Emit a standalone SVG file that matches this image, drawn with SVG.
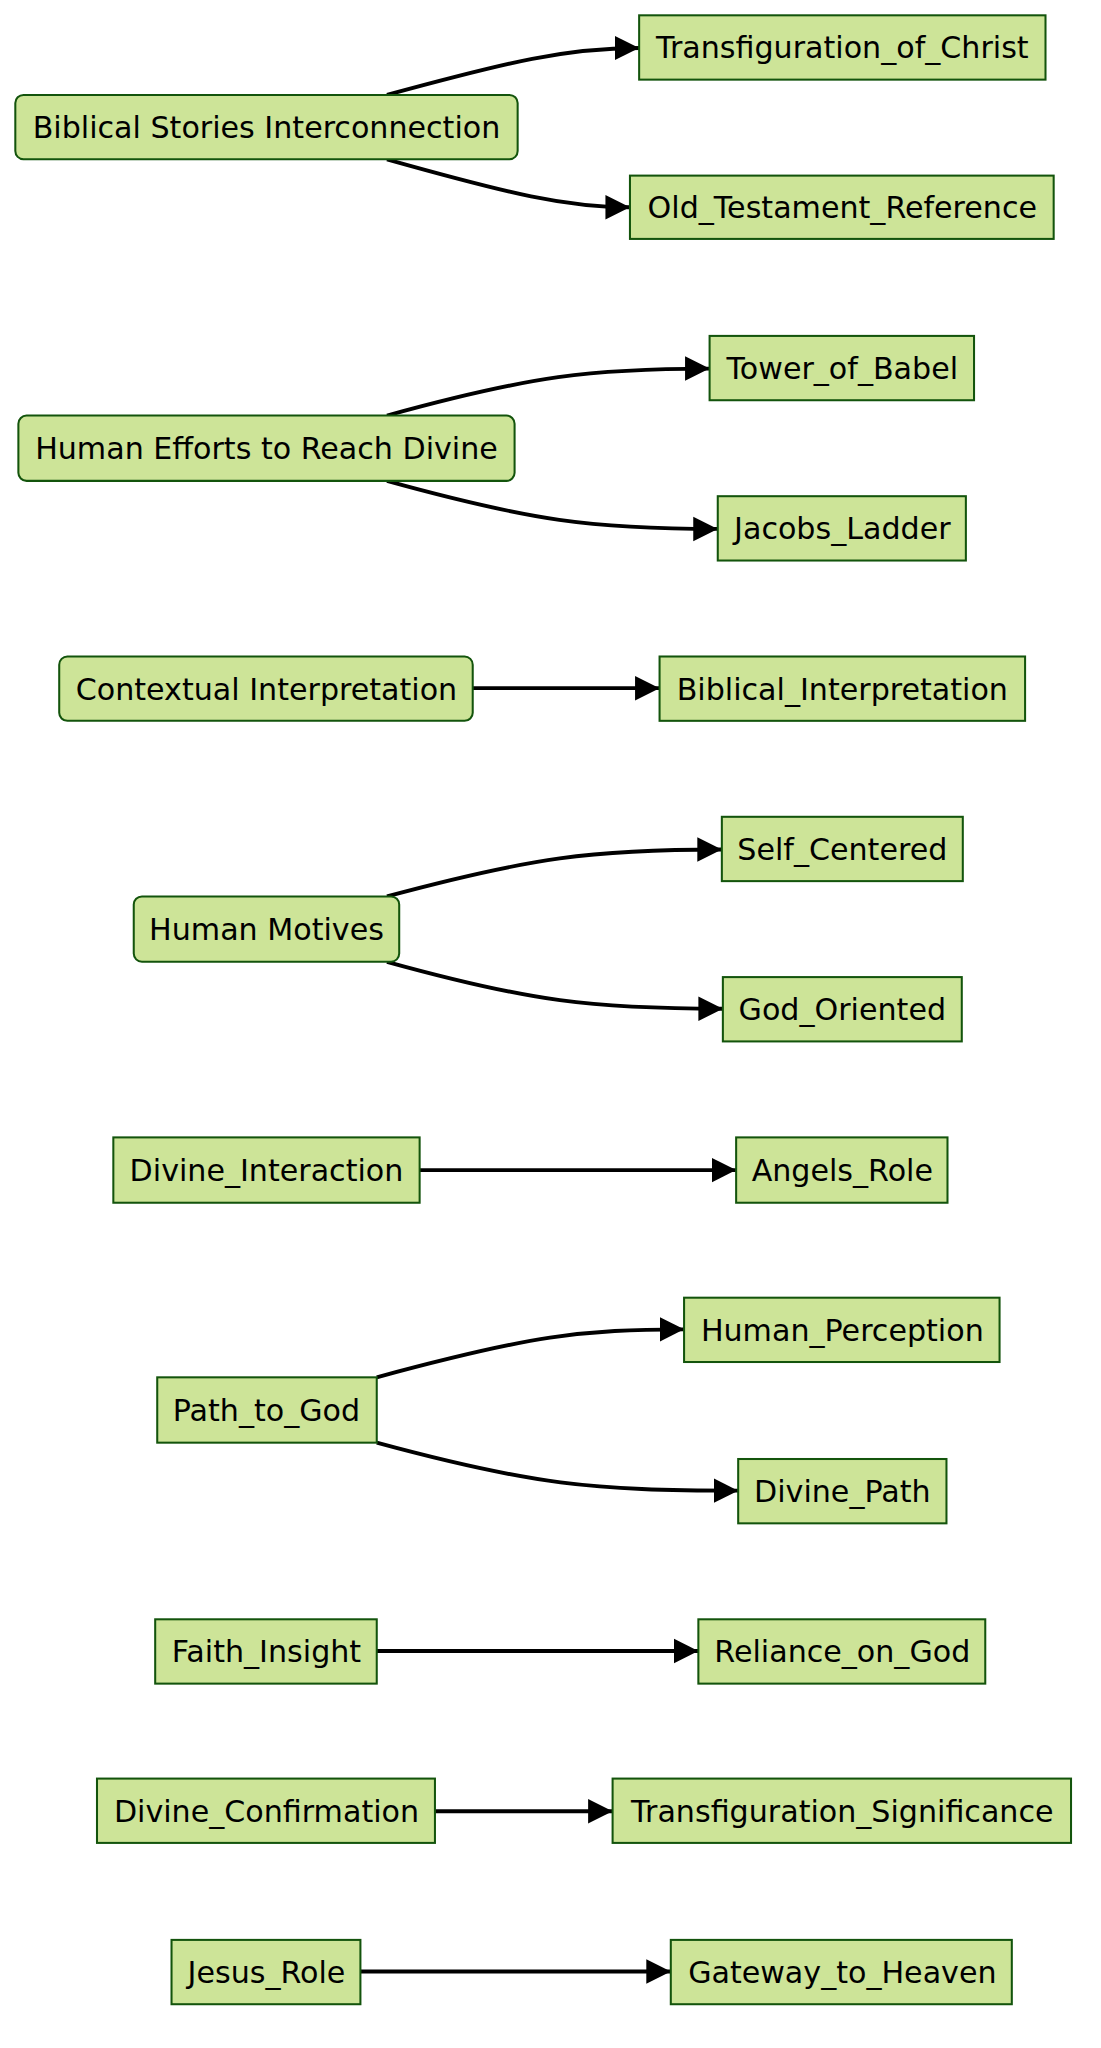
<svg xmlns="http://www.w3.org/2000/svg" width="1101" height="2048" viewBox="0 0 1101 2048">
<style>
.n rect{fill:#cde498;stroke:#13540c;stroke-width:2}
.n text{font-family:"DejaVu Sans",sans-serif;font-size:29.5px;fill:#000;text-anchor:middle;dominant-baseline:central}
.e path{fill:none;stroke:#000;stroke-width:3.8;marker-end:url(#a)}
</style>
<defs><marker id="a" markerUnits="userSpaceOnUse" markerWidth="26" markerHeight="26" refX="24" refY="13" orient="auto" viewBox="0 0 26 26"><path d="M0,1 L24,13 L0,25 z" fill="#000"/></marker></defs>
<rect width="1101" height="2048" fill="#fff"/>
<g transform="scale(1.021)">
<g id="edges" class="e">
<path d="M379,93 C500,60 555,47 626,47"/>
<path d="M379,156 C500,190 555,203 617,203"/>
<path d="M379,407 C520,368 580,361 695,361"/>
<path d="M379,471 C520,510 580,518 703,518"/>
<path d="M463,674 L646,674"/>
<path d="M379,878 C520,840 580,832 707,832"/>
<path d="M379,942 C520,981 580,988 708,988"/>
<path d="M411,1146 L721,1146"/>
<path d="M369,1349 C520,1308 570,1302 670,1302"/>
<path d="M369,1413 C520,1454 580,1460 723,1460"/>
<path d="M369,1617 L684,1617"/>
<path d="M426,1774 L600,1774"/>
<path d="M353,1931 L657,1931"/>
</g>
<g id="n1" class="n"><rect x="15" y="93" width="492" height="63" rx="8"/><text x="261" y="125">Biblical Stories Interconnection</text></g>
<g id="n2" class="n"><rect x="626" y="15" width="398" height="63"/><text x="825" y="47">Transfiguration_of_Christ</text></g>
<g id="n3" class="n"><rect x="617" y="172" width="415" height="62"/><text x="825" y="203">Old_Testament_Reference</text></g>
<g id="n4" class="n"><rect x="18" y="407" width="486" height="64" rx="8"/><text x="261" y="439">Human Efforts to Reach Divine</text></g>
<g id="n5" class="n"><rect x="695" y="329" width="259" height="63"/><text x="825" y="361">Tower_of_Babel</text></g>
<g id="n6" class="n"><rect x="703" y="486" width="243" height="63"/><text x="825" y="518">Jacobs_Ladder</text></g>
<g id="n7" class="n"><rect x="58" y="643" width="405" height="63" rx="8"/><text x="261" y="675">Contextual Interpretation</text></g>
<g id="n8" class="n"><rect x="646" y="643" width="358" height="63"/><text x="825" y="675">Biblical_Interpretation</text></g>
<g id="n9" class="n"><rect x="131" y="878" width="260" height="64" rx="8"/><text x="261" y="910">Human Motives</text></g>
<g id="n10" class="n"><rect x="707" y="800" width="236" height="63"/><text x="825" y="832">Self_Centered</text></g>
<g id="n11" class="n"><rect x="708" y="957" width="234" height="63"/><text x="825" y="989">God_Oriented</text></g>
<g id="n12" class="n"><rect x="111" y="1114" width="300" height="64"/><text x="261" y="1146">Divine_Interaction</text></g>
<g id="n13" class="n"><rect x="721" y="1114" width="207" height="64"/><text x="825" y="1146">Angels_Role</text></g>
<g id="n14" class="n"><rect x="154" y="1349" width="215" height="64"/><text x="261" y="1381">Path_to_God</text></g>
<g id="n15" class="n"><rect x="670" y="1271" width="309" height="63"/><text x="825" y="1303">Human_Perception</text></g>
<g id="n16" class="n"><rect x="723" y="1429" width="204" height="63"/><text x="825" y="1461">Divine_Path</text></g>
<g id="n17" class="n"><rect x="152" y="1586" width="217" height="63"/><text x="261" y="1618">Faith_Insight</text></g>
<g id="n18" class="n"><rect x="684" y="1586" width="281" height="63"/><text x="825" y="1618">Reliance_on_God</text></g>
<g id="n19" class="n"><rect x="95" y="1742" width="331" height="63"/><text x="261" y="1774">Divine_Confirmation</text></g>
<g id="n20" class="n"><rect x="600" y="1742" width="449" height="63"/><text x="825" y="1774">Transfiguration_Significance</text></g>
<g id="n21" class="n"><rect x="168" y="1900" width="185" height="63"/><text x="261" y="1932">Jesus_Role</text></g>
<g id="n22" class="n"><rect x="657" y="1900" width="334" height="63"/><text x="825" y="1932">Gateway_to_Heaven</text></g>
</g>
</svg>
